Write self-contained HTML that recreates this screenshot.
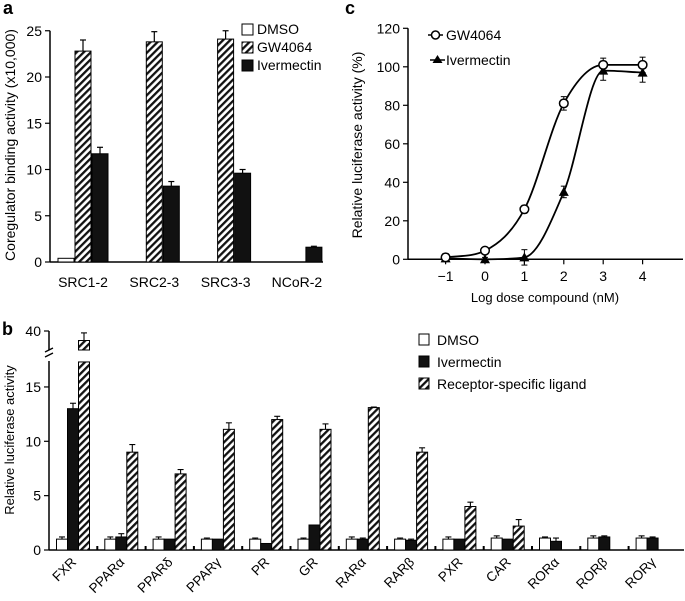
<!DOCTYPE html>
<html><head><meta charset="utf-8">
<style>
html,body{margin:0;padding:0;background:#fff;}
svg{display:block;font-family:"Liberation Sans",Arial,sans-serif;}
</style></head>
<body>
<svg id="fig" width="685" height="601" viewBox="0 0 685 601" xmlns="http://www.w3.org/2000/svg">
<defs>
<pattern id="hatch" patternUnits="userSpaceOnUse" width="5" height="5" patternTransform="rotate(45)">
<rect width="5" height="5" fill="#fff"/>
<rect x="0" y="0" width="2.3" height="5" fill="#111"/>
</pattern>
</defs>
<text x="3" y="14" font-size="18" font-weight="bold">a</text>
<text x="345" y="14" font-size="18" font-weight="bold">c</text>
<text x="2" y="335" font-size="18" font-weight="bold">b</text>
<g id="ga"></g>
<g id="gc"></g>
<g id="gb"></g>
</svg>
<script>
// ---- Panel a data ----
const aCategories = ["SRC1-2","SRC2-3","SRC3-3","NCoR-2"];
const aDMSO = [0.4, 0, 0, 0];
const aGW = [22.8, 23.8, 24.1, 0];
const aGWErr = [1.2, 1.1, 0.9, 0];
const aIver = [11.7, 8.2, 9.6, 1.6];
const aIverErr = [0.7, 0.5, 0.4, 0.1];
const aTicks = [0,5,10,15,20,25];
// ---- Panel c data ----
const cDose = [-1,0,1,2,3,4];
const cGW = [1, 4.5, 26, 81, 101, 101];
const cGWErr = [2, 1.5, 2, 3.5, 3.5, 4];
const cIver = [0.5, 0, 1, 35, 98, 97];
const cIverErr = [1.5, 1, 4, 3, 5, 5];
const cYTicks = [0,20,40,60,80,100,120];
const cXTicks = [-1,0,1,2,3,4];
// ---- Panel b data ----
const bCategories = ["FXR","PPARα","PPARδ","PPARγ","PR","GR","RARα","RARβ","PXR","CAR","RORα","RORβ","RORγ"];
const bDMSO = [1,1,1,1,1,1,1,1,1,1.1,1.1,1.1,1.1];
const bDMSOErr = [0.2,0.2,0.2,0.1,0.1,0.1,0.2,0.1,0.2,0.2,0.1,0.2,0.2];
const bIver = [13,1.2,1,1,0.6,2.3,1,0.9,1,1,0.8,1.2,1.1];
const bIverErr = [0.5,0.3,0,0,0,0,0.1,0.1,0,0,0.3,0.1,0.1];
const bLig = [39,9,7,11.1,12,11.1,13.1,9,4,2.2,null,null,null];
const bLigErr = [0.8,0.7,0.4,0.6,0.3,0.5,0.05,0.4,0.4,0.6,null,null,null];
const bTicks = [0,5,10,15,40];

const NS="http://www.w3.org/2000/svg";
function mk(parent,tag,attrs,txt){const e=document.createElementNS(NS,tag);for(const k in attrs)e.setAttribute(k,attrs[k]);if(txt!==undefined)e.textContent=txt;parent.appendChild(e);return e;}

// ===== Panel a =====
(function(){
const g=document.getElementById('ga');
const y=v=>262-v*9.25;
const cx=i=>83+i*71.3;
const bw=16;
let e=mk(g,'line',{x1:50,y1:y(0),x2:323,y2:y(0),stroke:'#000','stroke-width':1.5});


e=mk(g,'line',{x1:50,y1:y(0),x2:50,y2:y(25),stroke:'#000','stroke-width':1.5});


aTicks.forEach(t=>{
 mk(g,'line',{x1:45,x2:50,y1:y(t),y2:y(t),stroke:'#000','stroke-width':1.2});
 e=mk(g,'text',{x:42,y:y(t)+5,'font-size':14,'text-anchor':'end'},String(t));
 
 
});
e=mk(g,'text',{transform:'translate(15,145) rotate(-90)','font-size':14,'text-anchor':'middle'},'Coregulator binding activity (x10,000)');


aCategories.forEach((c,i)=>{
 const c0=cx(i);
 e=mk(g,'text',{x:c0,y:287,'font-size':14,'text-anchor':'middle'},c);
 
 
 const series=[[aDMSO[i],'#fff',0,-25],[aGW[i],'url(#hatch)',aGWErr[i],-8],[aIver[i],'#111',aIverErr[i],9]];
 series.forEach((s,j)=>{
  const v=s[0]; if(!v) return;
  const x=c0+s[3];
  if(s[2]){mk(g,'line',{x1:x+bw/2,x2:x+bw/2,y1:y(v),y2:y(v+s[2]),stroke:'#000','stroke-width':1.2});
   mk(g,'line',{x1:x+bw/2-3,x2:x+bw/2+3,y1:y(v+s[2]),y2:y(v+s[2]),stroke:'#000','stroke-width':1.2});}
  e=mk(g,'rect',{x:x,y:y(v),width:bw,height:y(0)-y(v),fill:s[1],stroke:'#000','stroke-width':1});
  
  
 });
});
const leg=[['DMSO','#fff'],['GW4064','url(#hatch)'],['Ivermectin','#111']];
leg.forEach((l,k)=>{
 const yy=34+k*18;
 mk(g,'rect',{x:242,y:yy-10,width:11,height:11,fill:l[1],stroke:'#000','stroke-width':1});
 e=mk(g,'text',{x:257,y:yy,'font-size':14},l[0]);
 
 
});
})();

// ===== Panel c =====
(function(){
const g=document.getElementById('gc');
const x=v=>485+v*39.4;
const y=v=>259.3-v*1.925;
let e=mk(g,'line',{x1:408,y1:y(0),x2:683,y2:y(0),stroke:'#000','stroke-width':1.5});


e=mk(g,'line',{x1:408,y1:y(0),x2:408,y2:y(120),stroke:'#000','stroke-width':1.5});


cYTicks.forEach(t=>{
 mk(g,'line',{x1:403,x2:408,y1:y(t),y2:y(t),stroke:'#000','stroke-width':1.2});
 e=mk(g,'text',{x:400,y:y(t)+5,'font-size':14,'text-anchor':'end'},String(t));
 
 
});
cXTicks.forEach(t=>{
 mk(g,'line',{x1:x(t),x2:x(t),y1:y(0),y2:y(0)+5,stroke:'#000','stroke-width':1.2});
 e=mk(g,'text',{x:x(t),y:281,'font-size':14,'text-anchor':'middle'},t<0?'−'+(-t):String(t));
 
 
});
e=mk(g,'text',{x:545,y:302,'font-size':13,'text-anchor':'middle'},'Log dose compound (nM)');


e=mk(g,'text',{transform:'translate(362,145) rotate(-90)','font-size':14,'text-anchor':'middle'},'Relative luciferase activity (%)');


function mono(xs,ys){
 const n=xs.length,d=[],m=[];
 for(let i=0;i<n-1;i++)d.push((ys[i+1]-ys[i])/(xs[i+1]-xs[i]));
 m[0]=d[0];m[n-1]=d[n-2];
 for(let i=1;i<n-1;i++)m[i]=(d[i-1]*d[i]<=0)?0:(d[i-1]+d[i])/2;
 for(let i=0;i<n-1;i++){if(d[i]===0){m[i]=0;m[i+1]=0;continue;}const a=m[i]/d[i],b=m[i+1]/d[i],s=a*a+b*b;if(s>9){const t=3/Math.sqrt(s);m[i]=t*a*d[i];m[i+1]=t*b*d[i];}}
 let p='M'+xs[0]+','+ys[0];
 for(let i=0;i<n-1;i++){const h=xs[i+1]-xs[i];p+=' C'+(xs[i]+h/3)+','+(ys[i]+m[i]*h/3)+' '+(xs[i+1]-h/3)+','+(ys[i+1]-m[i+1]*h/3)+' '+xs[i+1]+','+ys[i+1];}
 return p;
}
function series(vals,errs,name,tri){
 e=mk(g,'path',{d:mono(cDose.map(x),vals.map(y)),fill:'none',stroke:'#000','stroke-width':1.8});
 
 
 cDose.forEach((d,i)=>{
  const px=x(d),v=vals[i],er=errs[i];
  mk(g,'line',{x1:px,x2:px,y1:y(v-er),y2:y(v+er),stroke:'#000','stroke-width':1});
  mk(g,'line',{x1:px-3,x2:px+3,y1:y(v+er),y2:y(v+er),stroke:'#000','stroke-width':1});
  mk(g,'line',{x1:px-3,x2:px+3,y1:y(v-er),y2:y(v-er),stroke:'#000','stroke-width':1});
  if(tri){e=mk(g,'path',{d:`M${px},${y(v)-5} L${px+5},${y(v)+4} L${px-5},${y(v)+4} Z`,fill:'#000'});}
  else{e=mk(g,'circle',{cx:px,cy:y(v),r:4.3,fill:'#fff',stroke:'#000','stroke-width':1.5});}
  
  
 });
}
series(cIver,cIverErr,'ivermectin',true);
series(cGW,cGWErr,'gw4064',false);
mk(g,'line',{x1:428,x2:443,y1:35,y2:35,stroke:'#000','stroke-width':1.5});
mk(g,'circle',{cx:435.5,cy:35,r:4,fill:'#fff',stroke:'#000','stroke-width':1.5});
e=mk(g,'text',{x:446,y:40,'font-size':14},'GW4064');


mk(g,'line',{x1:430,x2:445,y1:60,y2:60,stroke:'#000','stroke-width':1.5});
mk(g,'path',{d:'M437.5,55 L442.5,63 L432.5,63 Z',fill:'#000'});
e=mk(g,'text',{x:446,y:65,'font-size':14},'Ivermectin');


})();

// ===== Panel b =====
(function(){
const g=document.getElementById('gb');
const BRK=17.3;
const y=v=>v<=BRK?550-v*10.87:331+(40-v)*9.5;
const cx=i=>73+i*48.3;
const bw=11;
let e=mk(g,'line',{x1:49,y1:550,x2:684,y2:550,stroke:'#000','stroke-width':1.5});


e=mk(g,'line',{x1:49,y1:550,x2:49,y2:361,stroke:'#000','stroke-width':1.5});


mk(g,'line',{x1:49,y1:331,x2:49,y2:350,stroke:'#000','stroke-width':1.5});
mk(g,'path',{d:'M45,352 L53,348 M45,357 L53,353',stroke:'#000','stroke-width':1.3,fill:'none'});
bTicks.forEach(t=>{
 mk(g,'line',{x1:44,x2:49,y1:y(t),y2:y(t),stroke:'#000','stroke-width':1.2});
 e=mk(g,'text',{x:41,y:y(t)+5,'font-size':14,'text-anchor':'end'},String(t));
 
 
});
e=mk(g,'text',{transform:'translate(14,440) rotate(-90)','font-size':13,'text-anchor':'middle'},'Relative luciferase activity');


function err(x,v,er){ if(!er) return;
 mk(g,'line',{x1:x,x2:x,y1:y(v),y2:y(v+er),stroke:'#000','stroke-width':1.1});
 mk(g,'line',{x1:x-3,x2:x+3,y1:y(v+er),y2:y(v+er),stroke:'#000','stroke-width':1.1});}
bCategories.forEach((c,i)=>{
 const c0=cx(i);
 if(i>0) mk(g,'line',{x1:c0-24,x2:c0-24,y1:550,y2:546,stroke:'#000','stroke-width':2});
 err(c0-bw*1.5+bw/2,bDMSO[i],bDMSOErr[i]);
 e=mk(g,'rect',{x:c0-bw*1.5,y:y(bDMSO[i]),width:bw,height:550-y(bDMSO[i]),fill:'#fff',stroke:'#000','stroke-width':1});
 
 
 err(c0,bIver[i],bIverErr[i]);
 e=mk(g,'rect',{x:c0-bw/2,y:y(bIver[i]),width:bw,height:550-y(bIver[i]),fill:'#111',stroke:'#000','stroke-width':1});
 
 
 const v=bLig[i];
 if(v!==null){
  const lx=c0+bw/2;
  err(lx+bw/2,v,bLigErr[i]);
  if(v>BRK){
   e=mk(g,'rect',{x:lx,y:y(BRK),width:bw,height:550-y(BRK),fill:'url(#hatch)',stroke:'#000','stroke-width':1});
   
   
   e=mk(g,'rect',{x:lx,y:y(v),width:bw,height:350-y(v),fill:'url(#hatch)',stroke:'#000','stroke-width':1});
   
   
  } else {
   e=mk(g,'rect',{x:lx,y:y(v),width:bw,height:550-y(v),fill:'url(#hatch)',stroke:'#000','stroke-width':1});
   
   
  }
 }
 e=mk(g,'text',{transform:`translate(${c0+4},563) rotate(-45)`,'font-size':13.5,'text-anchor':'end'},c);
 
 
});
const leg=[['DMSO','#fff'],['Ivermectin','#111'],['Receptor-specific ligand','url(#hatch)']];
leg.forEach((l,k)=>{
 const yy=345+k*22;
 mk(g,'rect',{x:419,y:yy-11,width:10,height:11,fill:l[1],stroke:'#000','stroke-width':1});
 e=mk(g,'text',{x:437,y:yy,'font-size':14},l[0]);
 
 
});
})();
</script>
</body></html>
